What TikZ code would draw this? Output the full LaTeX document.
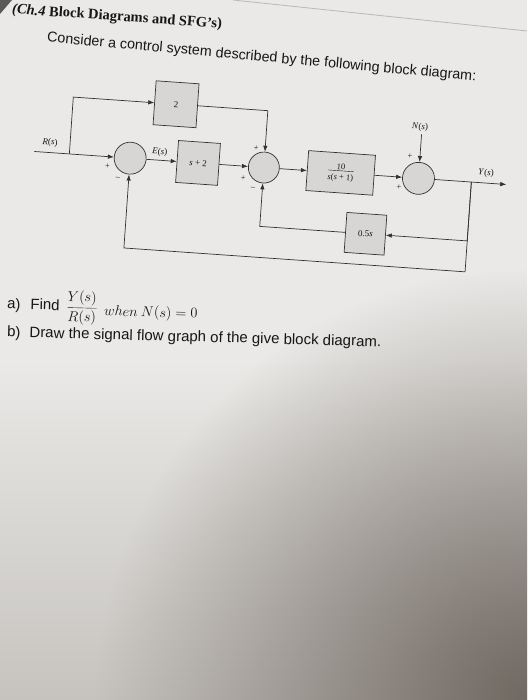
\documentclass[tikz,border=0pt]{standalone}
\usepackage{fontspec}
\setmainfont{Liberation Serif}
\newfontfamily\arialf{Liberation Sans}
\usetikzlibrary{arrows.meta,fadings}
\definecolor{paper}{RGB}{234,233,231}
\definecolor{paperlow}{RGB}{198,195,191}
\definecolor{cornerdark}{RGB}{112,104,97}
\definecolor{boxfill}{RGB}{215,214,212}
\definecolor{ink}{RGB}{50,50,50}
\definecolor{txt}{RGB}{22,22,22}
\tikzfading[name=cornerfade, inner color=transparent!0, outer color=transparent!100]
\newcommand{\vi}[1]{\textit{#1}}
\begin{document}
\begin{tikzpicture}[x=1pt,y=-1pt,
  blk/.style={draw=ink, fill=boxfill, line width=0.7pt, inner sep=0pt, text=txt, font=\fontsize{9}{10}\selectfont},
  sumj/.style={circle, draw=ink, fill=boxfill, line width=0.7pt, minimum size=32pt, inner sep=0pt},
  wire/.style={draw=ink, line width=0.7pt},
  arr/.style={wire, -{Latex[length=6pt,width=4.5pt]}},
  lbl/.style={text=txt, font=\fontsize{9}{10}\selectfont, inner sep=1pt},
  sgn/.style={text=txt, font=\fontsize{8.5}{9}\selectfont, inner sep=0pt},
  qtxt/.style={text=txt, font=\arialf\fontsize{15}{17}\selectfont, inner sep=0pt}]
\useasboundingbox (0,0) rectangle (527,700);
\begin{scope}
  \clip (0,0) rectangle (527,700);
  \fill[paper] (0,0) rectangle (527,700);
  \shade[top color=paper, bottom color=paperlow] (0,360) rectangle (527,700);
  \fill[cornerdark, path fading=cornerfade, fit fading=true] (527,700) circle (430);
  % photo artefacts: page corner and edge of the sheet behind
  \fill[black!65] (0,0) -- (12,0) -- (0,14) -- cycle;
  \draw[black!28, line width=0.8pt] (233,0) -- (527,31);
\end{scope}

% heading
\node[text=txt, font=\fontsize{14.5}{16}\selectfont\bfseries, anchor=west, rotate=-4, inner sep=0pt] (title) at (12,10) {\textit{(Ch.4} Block Diagrams and SFG’s)};
\node[text=txt, font=\arialf\fontsize{14.3}{16}\selectfont, anchor=west, rotate=-5.2, inner sep=0pt] (intro) at (47,38) {Consider a control system described by the following block diagram:};

% block diagram
\begin{scope}[rotate around={-4:(270,180)}, transform shape]
  \node[sumj] (s1) at (129,168) {};
  \node[blk, minimum width=43pt, minimum height=44pt] (b2) at (171,111) {2};
  \node[blk, minimum width=42pt, minimum height=42pt] (bs) at (197,168) {\vi{s} + 2};
  \node[sumj, minimum size=31pt] (s2) at (263,168) {};
  \node[blk, minimum width=67pt, minimum height=40pt, font=\fontsize{8.5}{9}\selectfont] (bg) at (340,168) {\begin{tabular}{@{}c@{}}10\\[-1.5pt]\hline\rule{0pt}{9pt}\vi{s}(\vi{s} + 1)\end{tabular}};
  \node[sumj] (s3) at (418,168) {};
  \node[blk, minimum width=40pt, minimum height=40pt, font=\fontsize{9}{10}\selectfont] (bh) at (369,227) {0.5\vi{s}};

  \coordinate (rin) at (33,168);
  \coordinate (br) at (68,168);
  \coordinate (nin) at (418,124);
  \coordinate (yb) at (471,168);
  \coordinate (yout) at (506,168);
  \coordinate (bcorner) at (471,258);

  \draw[wire] (rin) -- (br);
  \draw[arr] (br) -- (s1.west);
  \draw[arr] (br) |- (b2.west);
  \draw[arr] (s1.east) -- (bs.west);
  \draw[arr] (b2.east) -| (s2.north);
  \draw[arr] (bs.east) -- (s2.west);
  \draw[arr] (s2.east) -- (bg.west);
  \draw[arr] (bg.east) -- (s3.west);
  \draw[arr] (nin) -- (s3.north);
  \draw[arr] (s3.east) -- (yout);
  \draw[arr] (yb) |- (bh.east);
  \draw[arr] (bh.west) -| (s2.south);
  \draw[arr] (yb) -- (bcorner) -| (s1.south);

  \node[lbl] (lr) at (48,158) {\vi{R}(\vi{s})};
  \node[lbl] (le) at (158,160) {\vi{E}(\vi{s})};
  \node[lbl] (ln) at (416,117) {\vi{N}(\vi{s})};
  \node[lbl] (ly) at (485,158) {\vi{Y}(\vi{s})};

  \node[sgn] (p11) at (107,178) {+};
  \node[sgn] (m12) at (118,189) {–};
  \node[sgn] (p21) at (254,149) {+};
  \node[sgn] (p22) at (243,180) {+};
  \node[sgn] (m23) at (253.5,190) {–};
  \node[sgn] (p31) at (408,147) {+};
  \node[sgn] (p32) at (399,178) {+};
\end{scope}

% questions
\node[qtxt, anchor=west, rotate=-1.5] (qa) at (7,305) {a)\hspace{10pt}Find};
\node[text=txt, font=\fontsize{14.5}{16}\selectfont, rotate=-1.5, inner sep=0pt] (qfrac) at (82,308) {$\displaystyle\frac{Y(s)}{R(s)}$};
\node[text=txt, font=\fontsize{13.5}{15}\selectfont, anchor=west, rotate=-1.5, inner sep=0pt] (qcond) at (104,312) {$when\ N(s) = 0$};
\node[qtxt, anchor=west, rotate=-1.5] (qb) at (7,333) {b)\hspace{9pt}Draw the signal flow graph of the give block diagram.};
\end{tikzpicture}
\end{document}
